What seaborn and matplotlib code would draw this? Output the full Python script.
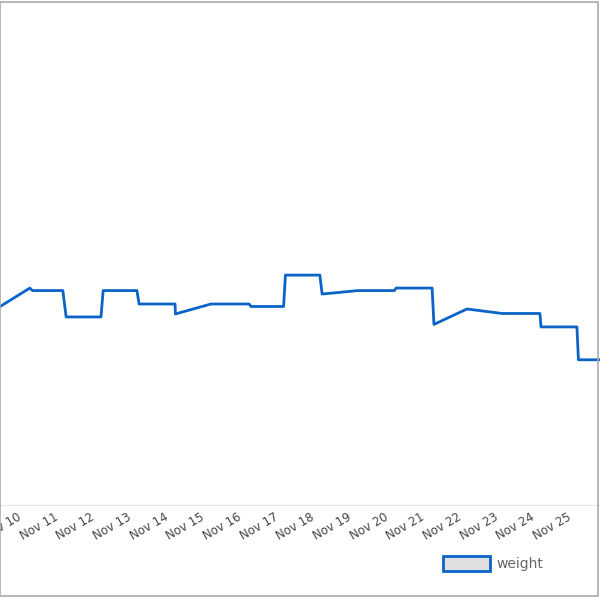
import matplotlib
matplotlib.use("Agg")
import matplotlib.pyplot as plt
import matplotlib.dates as mdates
import matplotlib.patches as mpatches
import seaborn as sns
import pandas as pd
import numpy as np

# ── Datos (días desde Nov 10 00:00, peso en kg) ─────────────────────────────
dias = [-0.46, 0.35, 0.42, 1.25, 1.34, 2.29, 2.35, 3.27, 3.33, 4.31, 4.32,
        5.29, 6.33, 6.38, 7.27, 7.32, 8.26, 8.32, 9.30, 10.29, 10.34, 11.32,
        11.37, 12.27, 13.23, 14.26, 14.29, 15.27, 15.31, 15.93]
peso = [75.96, 77.44, 77.24, 77.24, 75.12, 75.12, 77.24, 77.24, 76.16, 76.16,
        75.36, 76.16, 76.16, 75.96, 75.96, 78.48, 78.48, 76.96, 77.24, 77.24,
        77.44, 77.44, 74.52, 75.76, 75.40, 75.40, 74.32, 74.32, 71.68, 71.68]

inicio = pd.Timestamp("2023-11-10")
df = pd.DataFrame({"fecha": [inicio + pd.Timedelta(days=d) for d in dias],
                   "weight": peso})

sns.set_style("white")
fig = plt.figure(figsize=(6, 6), dpi=100)
ax = fig.add_axes([0, 0.158, 1.0, 0.83])

sns.lineplot(data=df, x="fecha", y="weight", ax=ax, color="#0a64c8",
             linewidth=2, legend=False)

# eje x: Nov 10 en x=17px, 36.67 px por día
px_dia = 36.67
ax.set_xlim(inicio - pd.Timedelta(days=17 / px_dia),
            inicio + pd.Timedelta(days=583 / px_dia))
ax.set_ylim(60, 100)
ax.xaxis.set_major_locator(mdates.DayLocator())
ax.xaxis.set_major_formatter(mdates.DateFormatter("Nov %d"))
ax.tick_params(axis="x", direction="in", length=8, color="#eeeeee",
               labelsize=8.5, labelcolor="#444444", pad=4)
plt.setp(ax.get_xticklabels(), rotation=30, ha="right", rotation_mode="anchor")
ax.set_yticks([])
ax.set_xlabel("")
ax.set_ylabel("")
for s in ["top", "left", "right"]:
    ax.spines[s].set_visible(False)
ax.spines["bottom"].set_color("#e6e6e6")

# leyenda
fig.patches.append(mpatches.Rectangle((0.738, 0.048), 0.078, 0.025,
                   transform=fig.transFigure, facecolor="#e0e0e0",
                   edgecolor="#0a64c8", linewidth=2))
fig.text(0.828, 0.06, "weight", fontsize=10, color="#666666", va="center")

# marco
fig.patches.append(mpatches.Rectangle((0.0, 0.007), 0.997, 0.99,
                   transform=fig.transFigure, fill=False,
                   edgecolor="#aaaaaa", linewidth=1.2))

fig.savefig("out.png", dpi=100)
